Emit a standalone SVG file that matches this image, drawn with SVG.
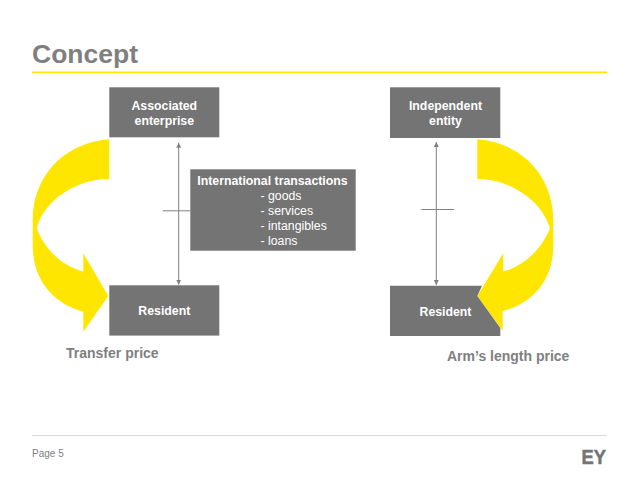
<svg xmlns="http://www.w3.org/2000/svg" width="638" height="478" viewBox="0 0 638 478">
<style>
text{font-family:"Liberation Sans",Arial,sans-serif}
.box{fill:#747474}
.w{fill:#fff;font-size:12.300px;font-weight:700;text-anchor:middle}
.l{fill:#fff;font-size:12.300px}
.g{fill:#808080;font-size:14px;font-weight:700}
.y{fill:#ffe600}
.c{stroke:#808080;stroke-width:1;fill:none}
</style>
<defs>
<marker id="a" markerWidth="6" markerHeight="6" refX="5" refY="2.5" orient="auto-start-reverse" markerUnits="userSpaceOnUse"><path d="M0 0L5 2.5L0 5Z" fill="#808080"/></marker>
</defs>
<rect width="638" height="478" fill="#fff"/>
<text x="32" y="63" font-size="26.500" font-weight="700" fill="#808080">Concept</text>
<rect x="32" y="71.500" width="575" height="1.500" fill="#ffe600"/>
<rect x="32" y="435" width="575" height="1" fill="#dcdcdc"/>
<text x="32" y="457" font-size="10" fill="#808080">Page 5</text>
<text x="581.500" y="464" font-size="20.500" font-weight="700" fill="#747474" stroke="#747474" stroke-width=".5" textLength="24.500" lengthAdjust="spacingAndGlyphs">EY</text>
<g id="arrow-left"><path class="y" d="M109.300 139.300C62 143 32.700 178 32.700 220V245C32.700 282 55 304 83.300 311.700V331.700L108.300 296L83.300 253.300V271.700C60 265 44 248 36.700 228C44 201 75 179 109.300 179Z"/></g>
<g id="arrow-right"><path class="y" d="M477.300 139.300C524 143 553.300 178 553.300 220V245C553.300 282 531 304 502.700 311V330.700L477.300 296L503.300 253.300V271.700C526 265 542 248 550 228.300C542 201 511 179 477.300 179Z"/></g>
<g id="associated-enterprise"><rect class="box" x="109.300" y="87.300" width="110" height="50"/><text class="w"><tspan x="164.300" y="110">Associated</tspan><tspan x="164.300" y="125">enterprise</tspan></text></g>
<g id="resident-left"><rect class="box" x="109.300" y="285.300" width="110" height="50.300"/><text class="w" x="164.300" y="315">Resident</text></g>
<g id="transactions"><rect class="box" x="190.300" y="169.300" width="165.400" height="81.400"/><text class="w" x="272.500" y="184.500">International transactions</text><text class="l"><tspan x="260.500" y="199.500">- goods</tspan><tspan x="260.500" y="214.500">- services</tspan><tspan x="260.500" y="229.500">- intangibles</tspan><tspan x="260.500" y="244.500">- loans</tspan></text></g>
<g id="independent-entity"><rect class="box" x="390" y="87.300" width="110.300" height="50.700"/><text class="w"><tspan x="445.500" y="110">Independent</tspan><tspan x="445.500" y="125">entity</tspan></text></g>
<g id="resident-right"><path class="box" d="M390 285.700H482L477.300 296L500.300 328V336H390Z"/><text class="w" x="445.500" y="316">Resident</text></g>
<g id="connectors">
<path class="c" d="M178.700 142.700V284.700" marker-start="url(#a)" marker-end="url(#a)"/>
<path class="c" d="M162.700 210.800H190.300"/>
<path class="c" d="M436.300 142V285" marker-start="url(#a)" marker-end="url(#a)"/>
<path class="c" d="M421.300 209.500H454"/>
</g>
<text class="g" x="66" y="358">Transfer price</text>
<text class="g" x="447" y="361">Arm’s length price</text>
</svg>
